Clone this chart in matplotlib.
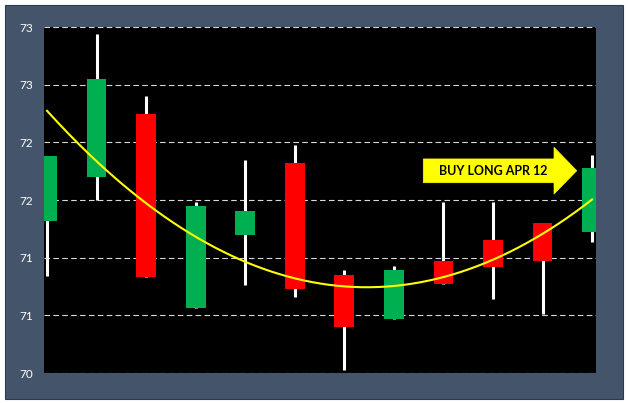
import numpy as np
import matplotlib
matplotlib.use('Agg')
from matplotlib import pyplot as plt
from matplotlib.patches import Rectangle, Polygon

#%% Datos (OHLC)

opens  = [71.32, 71.70, 72.25, 70.56, 71.20, 71.82, 70.85, 70.47, 70.97, 71.15, 71.30, 71.22]
highs  = [71.88, 72.94, 72.40, 71.48, 71.85, 71.98, 70.89, 70.93, 71.485, 71.485, 71.30, 71.89]
lows   = [70.84, 71.50, 70.835, 70.56, 70.76, 70.66, 70.03, 70.47, 70.77, 70.64, 70.51, 71.14]
closes = [71.88, 72.55, 70.835, 71.45, 71.405, 70.73, 70.40, 70.89, 70.77, 70.92, 70.97, 71.78]

yticks = [70.0, 70.5, 71.0, 71.5, 72.0, 72.5, 73.0]
yticklabels = ['70', '71', '71', '72', '72', '73', '73']

label = 'BUY LONG APR 12'

green = '#00B050'
red = '#FF0000'
slate = '#44546A'

#%% Figura

fig = plt.figure(figsize=(6.28, 4.03), dpi=100, facecolor='white')
fig.patches.append(Rectangle((0.008, 0.010), 0.984, 0.978, transform=fig.transFigure,
                             facecolor=slate, edgecolor='#2F3B4C', linewidth=0.8, zorder=-10))

ax = fig.add_axes([0.0701, 0.0744, 0.8790, 0.8586])
ax.set_facecolor('black')

x = np.arange(len(opens))
o = np.array(opens)
c = np.array(closes)
up = c >= o
cols = [green if u else red for u in up]

# mechas
ax.vlines(x, lows, highs, color='white', linewidth=2.2, zorder=2)
# cuerpos
ax.bar(x, np.abs(c - o), bottom=np.minimum(o, c), width=0.40, color=cols, zorder=3)

# tendencia polinomica (orden 2) sobre cierres
p = np.polyfit(x, c, 2)
xx = np.linspace(x[0], x[-1], 200)
ax.plot(xx, np.polyval(p, xx), color='#FFFF00', linewidth=1.5, zorder=4)

# flecha
arrow = [(7.594, 71.856), (10.232, 71.856), (10.232, 71.957), (10.69, 71.754),
         (10.232, 71.552), (10.232, 71.650), (7.594, 71.650)]
ax.add_patch(Polygon(arrow, closed=True, facecolor='#FFFF00', edgecolor='#FFFF00',
                     linewidth=0.5, zorder=5))
ax.text(9.01, 71.748, label, ha='center', va='center', fontsize=9,
        fontweight='bold', family='Lato', color='black', zorder=6)

ax.set_xlim(-0.06, 11.08)
ax.set_ylim(70, 73)
ax.set_yticks(yticks)
ax.set_yticklabels(yticklabels, family='Lato', fontsize=8.5, color='white')
ax.tick_params(axis='y', length=0, pad=8)
ax.set_xticks([])
ax.grid(axis='y', color='#D9D9D9', linestyle=(0, (5, 3)), linewidth=0.8, zorder=1)
ax.set_axisbelow(True)
for s in ax.spines.values():
    s.set_visible(False)

fig.savefig('out.png', dpi=100, facecolor='white')
